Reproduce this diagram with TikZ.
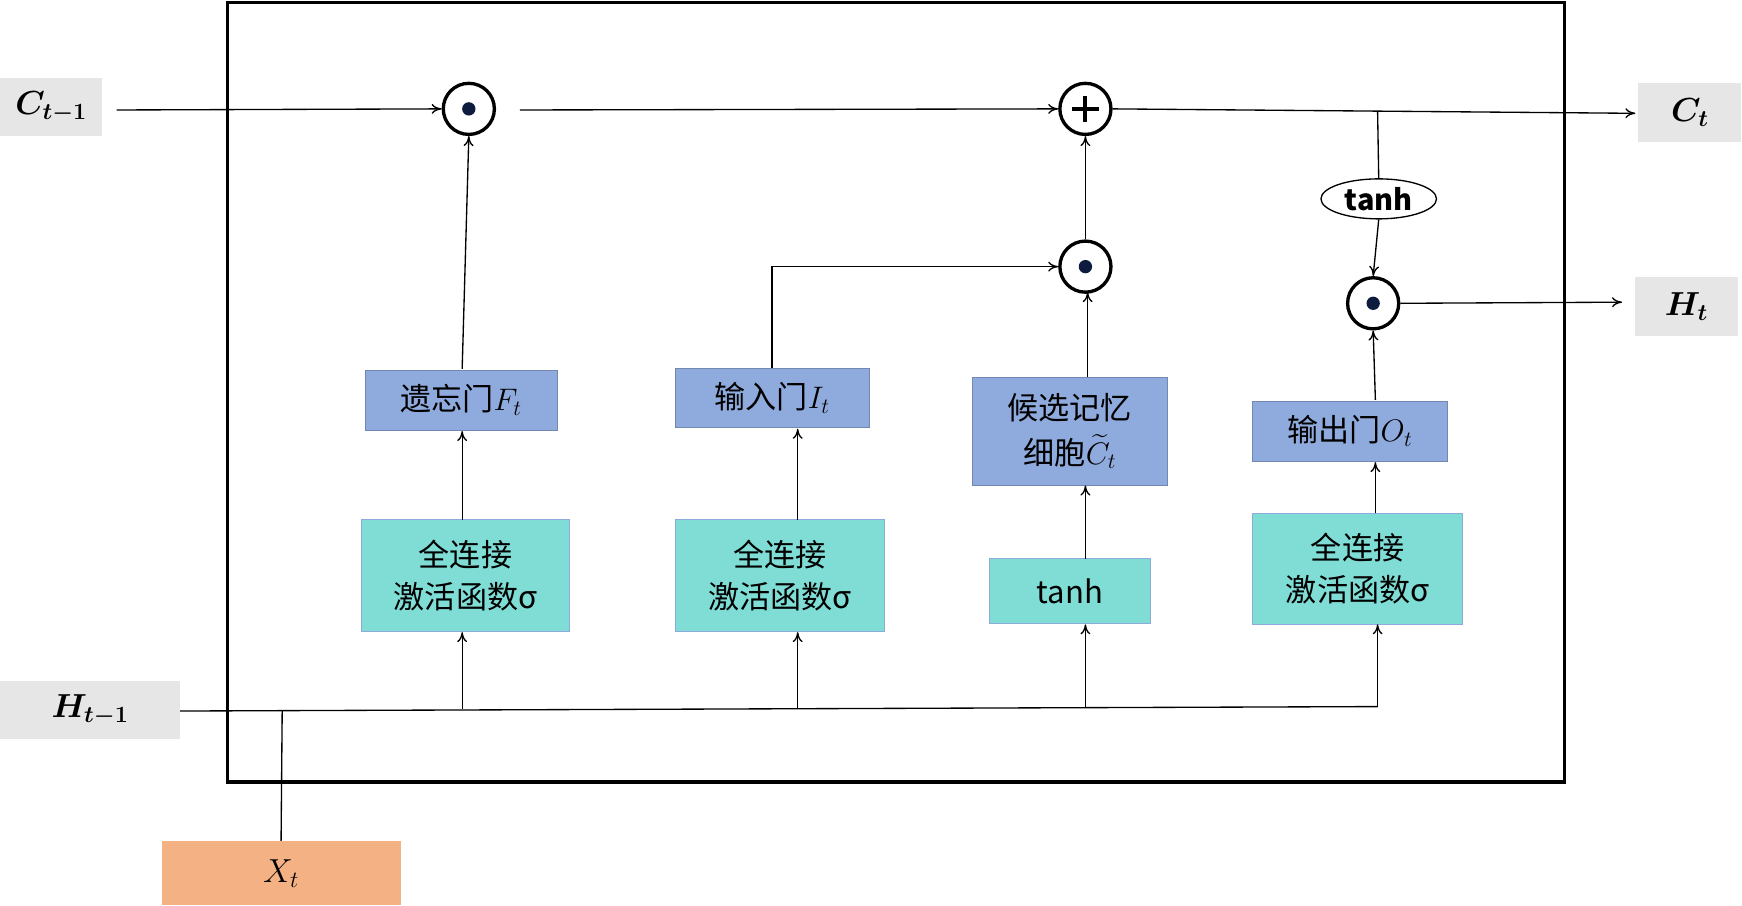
\documentclass[tikz,border=0pt]{standalone}
\usepackage{fix-cm}
\usepackage{fontspec}
\usepackage{amsmath,bm}
\setmainfont{Noto Sans CJK SC}
\usetikzlibrary{arrows.meta,shapes.geometric}
\definecolor{gatec}{HTML}{8FAADC}
\definecolor{fcc}{HTML}{7FDDD6}
\definecolor{grayc}{HTML}{E7E6E6}
\definecolor{xc}{HTML}{F4B183}
\definecolor{dotc}{HTML}{0D1B3E}
\tikzset{
  ln/.style={line width=1.2pt,-{To[length=9pt,width=9pt]}},
  pl/.style={line width=1.2pt},
  gate/.style={fill=gatec,draw=gatec!80!black,line width=0.4pt,inner sep=0pt,font=\fontsize{28}{34}\selectfont},
  fcbox/.style={fill=fcc,draw=gatec,line width=1pt,inner sep=0pt,align=center,font=\fontsize{28}{38}\selectfont},
  lbl/.style={fill=grayc,inner sep=0pt,font=\fontsize{30}{34}\selectfont},
  op/.style={circle,draw,line width=3pt,minimum size=46pt,inner sep=0pt},
}
\begin{document}
\begin{tikzpicture}[x=1pt,y=-1pt]
\useasboundingbox (0,0) rectangle (1568,815.5);
\draw[line width=3pt] (205,2) rectangle (1408,704);
% labels
\node[lbl,minimum width=92pt,minimum height=52pt] (c0) at (46,96) {$\bm{C_{t-1}}$};
\node[lbl,minimum width=93pt,minimum height=53pt] (c1) at (1521,101) {$\bm{C_{t}}$};
\node[lbl,minimum width=93pt,minimum height=53pt] (h1) at (1518,276) {$\bm{H_{t}}$};
\node[lbl,minimum width=162pt,minimum height=52pt] (h0) at (81,639) {$\bm{H_{t-1}}$};
\node[fill=xc,inner sep=0pt,minimum width=215pt,minimum height=58pt,font=\fontsize{30}{34}\selectfont] (x) at (253,786) {$X_t$};
% operators
\node[op] (o1) at (422,98) {};
\fill[dotc] (o1) circle (6pt);
\node[op] (p) at (977,98) {};
\draw[line width=3.5pt] (965,98) -- (989,98) (977,86) -- (977,110);
\node[op] (o2) at (977,240) {};
\fill[dotc] (o2) circle (6pt);
\node[op] (o3) at (1236,273) {};
\fill[dotc] (o3) circle (6pt);
\node[ellipse,draw,line width=1.2pt,minimum width=104pt,minimum height=36pt,inner sep=0pt,font=\bfseries\fontsize{26}{30}\selectfont] (th) at (1241,179) {tanh};
% gates
\node[gate,minimum width=173pt,minimum height=54pt] (fg) at (415,360) {遗忘门$F_t$};
\node[gate,minimum width=174pt,minimum height=53pt] (ig) at (695,358) {输入门$I_t$};
\node[gate,minimum width=175pt,minimum height=97pt,align=center,font=\fontsize{28}{40}\selectfont] (cg) at (963,388) {候选记忆\\细胞$\widetilde{C}_t$};
\node[gate,minimum width=175pt,minimum height=54pt] (og) at (1215,388) {输出门$O_t$};
\node[fcbox,minimum width=187pt,minimum height=101pt] (f1) at (419,518) {全连接\\激活函数σ};
\node[fcbox,minimum width=188pt,minimum height=101pt] (f2) at (702,518) {全连接\\激活函数σ};
\node[fcbox,minimum width=145pt,minimum height=59pt] (f3) at (963,532) {tanh};
\node[fcbox,minimum width=189pt,minimum height=100pt] (f4) at (1222,512) {全连接\\激活函数σ};
% cell line
\coordinate (a0) at (105,99);
\draw[ln] (a0) -- (o1.west);
\draw[ln] (468,99) -- (p.west);
\coordinate (cb) at (1240,101);
\draw[ln] (p.east) -- (1472,102);
\draw[pl] (cb) -- (th.north);
\draw[ln] (th.south) -- (o3.north);
\draw[ln] (o3.east) -- (1460,272);
% gates up
\draw[ln] (416,332) -- (o1.south);
\draw[ln] (695,331) |- (o2.west);
\draw[ln] (979,339) -- (979,263);
\draw[ln] (o2.north) -- (p.south);
\draw[ln] (1238,360) -- (o3.south);
% fc to gates
\draw[ln] (416,468) -- (416,388);
\draw[ln] (718,468) -- (718,386);
\draw[ln] (977,503) -- (977,437);
\draw[ln] (1238,462) -- (1238,416);
% H line
\coordinate (hj) at (1240,636);
\draw[pl] (h0.east) ++(0,1) -- (hj);
\draw[ln] (hj) -- (1240,562);
\draw[ln] (416,638) -- (416,569);
\draw[ln] (718,638) -- (718,569);
\draw[ln] (977,637) -- (977,562);
\draw[pl] (x.north) -- (254,640);
\end{tikzpicture}
\end{document}
